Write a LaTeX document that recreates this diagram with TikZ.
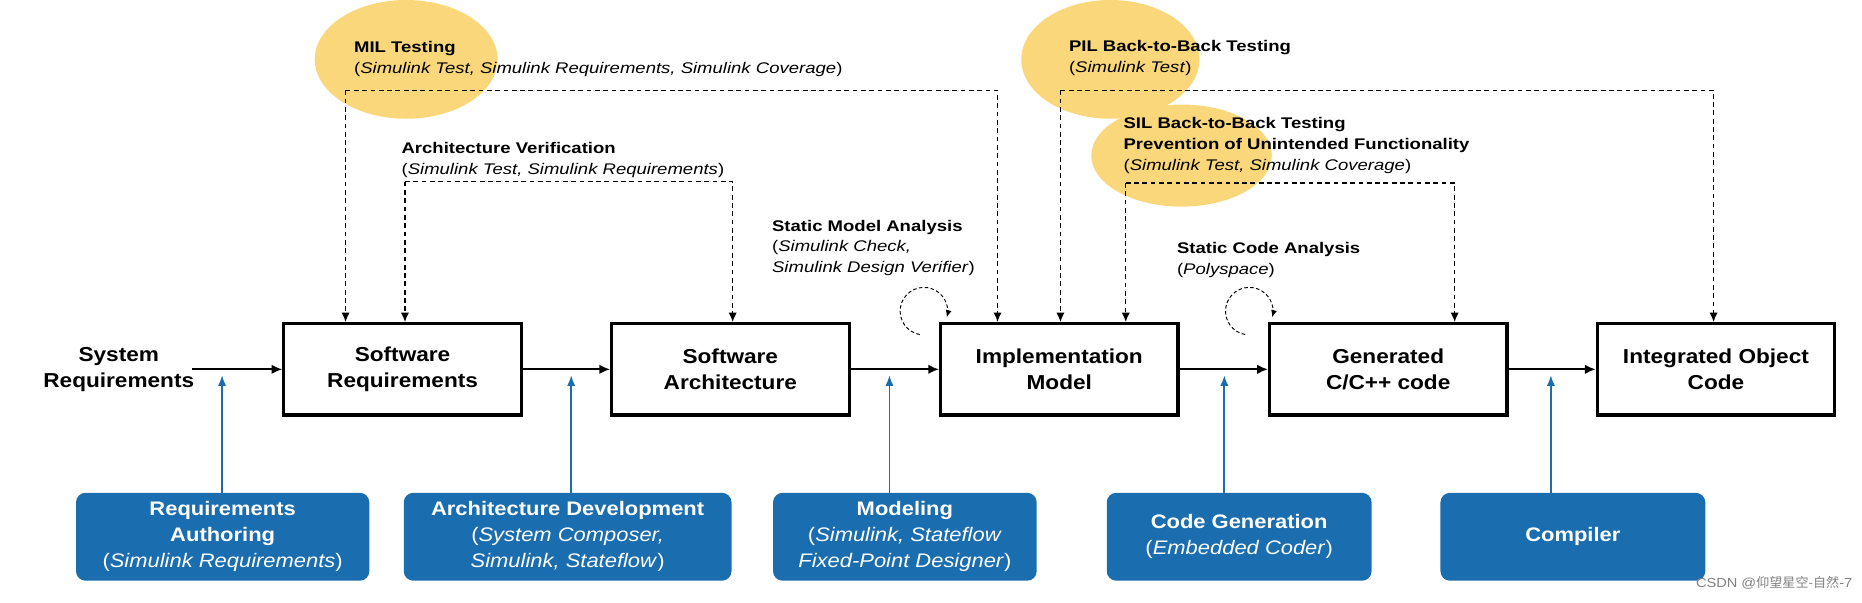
\documentclass[tikz,border=0pt]{standalone}
\usepackage{fontspec}
\setmainfont{Liberation Sans}[FakeStretch=1.12]
\newfontfamily\annf{Liberation Sans}[FakeStretch=1.2]
\newfontfamily\cjk{Noto Sans CJK SC}
\usetikzlibrary{arrows.meta}
\definecolor{bl}{HTML}{1A6DAE}
\definecolor{yl}{HTML}{F9D77A}
\begin{document}
\begin{tikzpicture}[x=1pt,y=-1pt,
 box/.style={draw,line width=2.6pt,minimum width=200pt,minimum height=77pt,inner sep=0pt,align=center,font=\fontsize{17}{22}\selectfont\bfseries},
 tool/.style={fill=bl,rounded corners=8pt,inner sep=0pt,align=center,text=white,font=\fontsize{16.5}{22}\selectfont\bfseries},
 ann/.style={anchor=north west,align=left,inner sep=0pt,font=\annf\fontsize{13}{17.5}\selectfont\bfseries},
 vdash/.style={line width=1.2pt,dash pattern=on 4pt off 3pt,-{Latex[length=8pt,width=7pt]}},
 main/.style={line width=1.6pt,-{Latex[length=9pt,width=8pt]}},
 up/.style={bl,line width=1.4pt,-{Latex[length=9pt,width=7pt]}},
 sloop/.style={densely dashed,line width=0.8pt,-{Latex[length=6pt,width=5pt]}}]
\useasboundingbox (0,0) rectangle (1568,507);
% highlights
\fill[yl] (342,50) ellipse [x radius=77,y radius=50];
\fill[yl] (935,50) ellipse [x radius=75,y radius=50];
\fill[yl] (995,131) ellipse [x radius=76,y radius=43];
% main boxes
\node[box] (sr) at (339,311) {Software\\Requirements};
\node[box] (sa) at (615,311) {Software\\Architecture};
\node[box] (im) at (892,311) {Implementation\\Model};
\node[box] (gc) at (1169,311) {Generated\\C/C++ code};
\node[box] (io) at (1445,311) {Integrated Object\\Code};
\node[align=center,inner sep=0pt,font=\fontsize{17}{22}\selectfont\bfseries] (sys) at (100,311) {System\\Requirements};
\coordinate (s0) at (162,311);
\draw[main] (s0) -- (sr);
\draw[main] (sr) -- (sa);
\draw[main] (sa) -- (im);
\draw[main] (im) -- (gc);
\draw[main] (gc) -- (io);
% tool boxes
\node[tool,minimum width=247pt,minimum height=74pt] (t1) at (187.5,452) {Requirements\\Authoring\\{\mdseries(\textit{Simulink Requirements})}};
\node[tool,minimum width=276pt,minimum height=74pt] (t2) at (478,452) {Architecture Development\\{\mdseries(\textit{System Composer,}}\\{\mdseries\textit{Simulink, Stateflow})}};
\node[tool,minimum width=222pt,minimum height=74pt] (t3) at (762,452) {Modeling\\{\mdseries(\textit{Simulink, Stateflow}}\\{\mdseries\textit{Fixed-Point Designer})}};
\node[tool,minimum width=223pt,minimum height=74pt] (t4) at (1043.5,452) {Code Generation\\{\mdseries(\textit{Embedded Coder})}};
\node[tool,minimum width=223pt,minimum height=74pt] (t5) at (1324.5,452) {Compiler};
\coordinate (u1) at (187,316); \coordinate (u2) at (481,316); \coordinate (u3) at (749,316);
\coordinate (u4) at (1031,316); \coordinate (u5) at (1306,316);
\draw[up] (t1.north -| u1) -- (u1);
\draw[up] (t2.north -| u2) -- (u2);
\draw[up] (t3.north -| u3) -- (u3);
\draw[up] (t4.north -| u4) -- (u4);
\draw[up] (t5.north -| u5) -- (u5);
% annotations
\node[ann] (mil) at (298,35) {MIL Testing\\{\mdseries(\textit{Simulink Test, Simulink Requirements, Simulink Coverage})}};
\node[ann] (av) at (338,120) {Architecture Verification\\{\mdseries(\textit{Simulink Test, Simulink Requirements})}};
\node[ann] (pil) at (900,34) {PIL Back-to-Back Testing\\{\mdseries(\textit{Simulink Test})}};
\node[ann] (sil) at (946,99) {SIL Back-to-Back Testing\\Prevention of Unintended Functionality\\{\mdseries(\textit{Simulink Test, Simulink Coverage})}};
\node[ann] (sma) at (650,185) {Static Model Analysis\\{\mdseries(\textit{Simulink Check,}}\\{\mdseries\textit{Simulink Design Verifier})}};
\node[ann] (sca) at (991,204) {Static Code Analysis\\{\mdseries(\textit{Polyspace})}};
% dashed verification lines
\draw[vdash] (291,76) -- (291,76 |- sr.north) ;
\draw[vdash] (291,76) -- (840,76) -- (840,76 |- im.north);
\draw[vdash] (341,153) -- (341,153 |- sr.north);
\draw[vdash] (341,153) -- (617,153) -- (617,153 |- sa.north);
\draw[vdash] (893,76) -- (893,76 |- im.north);
\draw[vdash] (893,76) -- (1443,76) -- (1443,76 |- io.north);
\draw[vdash] (948,154) -- (948,154 |- im.north);
\draw[vdash] (948,154) -- (1225,154) -- (1225,154 |- gc.north);
% self loops
\draw[sloop] ([shift={(100:20)}]778,262) arc[start angle=100,end angle=375,radius=20];
\draw[sloop] ([shift={(100:20)}]1052,262) arc[start angle=100,end angle=375,radius=20];
% watermark
\node[anchor=east,inner sep=0pt,text=gray,font=\fontsize{11}{13}\selectfont] (wm) at (1560,491) {CSDN @{\cjk 仰望星空-自然}-7};
\end{tikzpicture}
\end{document}
